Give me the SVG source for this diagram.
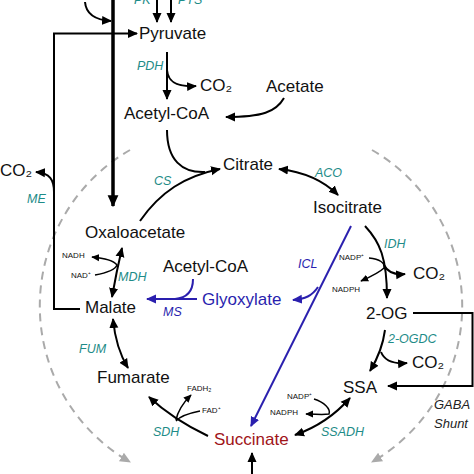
<svg xmlns="http://www.w3.org/2000/svg" width="474" height="474" viewBox="0 0 474 474">
<defs>
<style>
.m{font-family:"Liberation Sans",Arial,sans-serif;font-size:17px;fill:#111}
.e{font-family:"Liberation Sans",Arial,sans-serif;font-size:12.5px;font-style:italic;fill:#1e8c88}
.eb{font-family:"Liberation Sans",Arial,sans-serif;font-size:12.5px;font-style:italic;fill:#2a1fae}
.s{font-family:"Liberation Sans",Arial,sans-serif;font-size:8px;fill:#111}
.g{font-family:"Liberation Sans",Arial,sans-serif;font-size:13px;font-style:italic;fill:#222}
.l{fill:none;stroke:#000;stroke-width:2}
.lb{fill:none;stroke:#2a1fae;stroke-width:2}
.ls{fill:none;stroke:#000;stroke-width:1.5}
.d{fill:none;stroke:#aaa;stroke-width:2;stroke-dasharray:8 6}
</style>
<marker id="a" viewBox="0 0 10 10" refX="9" refY="5" markerWidth="10" markerHeight="10" markerUnits="userSpaceOnUse" orient="auto-start-reverse"><path d="M0,0.5 L10,5 L0,9.5 z" fill="#000"/></marker>
<marker id="ag" viewBox="0 0 10 10" refX="9" refY="5" markerWidth="12" markerHeight="12" markerUnits="userSpaceOnUse" orient="auto-start-reverse"><path d="M0,0.5 L10,5 L0,9.5 z" fill="#000"/></marker>
<marker id="as" viewBox="0 0 10 10" refX="9" refY="5" markerWidth="8" markerHeight="8" markerUnits="userSpaceOnUse" orient="auto-start-reverse"><path d="M0,0.5 L10,5 L0,9.5 z" fill="#000"/></marker>
<marker id="ab" viewBox="0 0 10 10" refX="9" refY="5" markerWidth="10" markerHeight="10" markerUnits="userSpaceOnUse" orient="auto-start-reverse"><path d="M0,0.5 L10,5 L0,9.5 z" fill="#2a1fae"/></marker>
<marker id="ad" viewBox="0 0 10 10" refX="9" refY="5" markerWidth="11" markerHeight="11" markerUnits="userSpaceOnUse" orient="auto-start-reverse"><path d="M0,0.5 L10,5 L0,9.5 z" fill="#aaa"/></marker>
</defs>
<rect width="474" height="474" fill="#fff"/>

<g id="connectors">
<path class="d" d="M130,150 A180,180 0 0 0 130,462" marker-end="url(#ad)"/>
<path class="d" d="M372,150 A180,180 0 0 1 372,462" marker-end="url(#ad)"/>
<path fill="none" stroke="#000" stroke-width="3.5" d="M113,0 L113,206" marker-end="url(#ag)"/>
<path class="l" d="M85,2 C86,14 95,20 111,21" marker-end="url(#a)"/>
<path class="l" d="M80,309 L54,309 L54,33.5 L137,33.5" marker-end="url(#a)"/>
<path class="l" d="M157,0 L157,22" marker-end="url(#a)"/>
<path class="l" d="M171,0 L171,22" marker-end="url(#a)"/>
<path class="l" d="M167,52 L167,99" marker-end="url(#a)"/>
<path class="l" d="M167,70 C168,84 180,87 196,86" marker-end="url(#a)"/>
<path class="l" d="M284,98 C276,112 262,117 226,117" marker-end="url(#a)"/>
<path class="l" d="M167,130 C167,160 182,173 205,172"/>
<path class="l" d="M140,221 C160,192 185,176 220,169" marker-end="url(#a)"/>
<path class="l" d="M54,192 C54,180 50,173 36,172" marker-end="url(#a)"/>
<path class="l" d="M279,169 C305,172 325,182 338,195" marker-start="url(#a)" marker-end="url(#a)"/>
<path class="l" d="M365,226 C380,242 387,258 387,298" marker-end="url(#a)"/>
<path class="ls" d="M369,258 C380,259 385,263 384,268 C379,273 370,277 361,281" marker-end="url(#as)"/>
<path class="l" d="M384,265 C388,273 395,275 405,274" marker-end="url(#a)"/>
<path class="lb" d="M351,226 L251,426" marker-end="url(#ab)"/>
<path class="lb" d="M318,287 C312,296 305,299 293,300" marker-end="url(#ab)"/>
<path class="l" d="M413,313 L472.5,313 L472.5,386 L388,386" marker-end="url(#a)"/>
<path class="l" d="M385,330 C383,345 378,358 370,371" marker-end="url(#a)"/>
<path class="l" d="M381,352 C385,362 395,364 407,363" marker-end="url(#a)"/>
<path class="l" d="M350,398 C335,415 315,428 295,435" marker-start="url(#a)" marker-end="url(#a)"/>
<path class="ls" d="M314,399 C324,402 331,409 329,414 C322,415 316,414 306,414" marker-end="url(#as)"/>
<path class="l" d="M252,474 L252,453" marker-end="url(#a)"/>
<path class="l" d="M208,436 C185,425 165,412 149,397" marker-end="url(#a)"/>
<path class="ls" d="M176,420 C178,410 184,402 191,395" marker-end="url(#as)"/>
<path class="ls" d="M200,411 C190,413 180,416 176,421"/>
<path class="l" d="M113,319 C115,340 120,355 128,368" marker-start="url(#a)" marker-end="url(#a)"/>
<path class="l" d="M112,297 C115,280 118,265 122,248" marker-start="url(#a)" marker-end="url(#a)"/>
<path class="ls" d="M95,275 C106,273 115,270 117,265 C113,260 103,258 92,257" marker-end="url(#as)"/>
<path class="lb" d="M197,299 L147,299" marker-end="url(#ab)"/>
<path class="lb" d="M193,279 C193,292 186,298 175,299"/>
</g>

<g id="pk"><text class="e" x="134" y="4">PK</text></g>
<g id="pts"><text class="e" x="178" y="4">PTS</text></g>
<g id="pyruvate"><text class="m" x="139" y="39">Pyruvate</text></g>
<g id="pdh"><text class="e" x="137" y="70">PDH</text></g>
<g id="co2-pdh"><text class="m" x="200" y="91">CO₂</text></g>
<g id="acetylcoa"><text class="m" x="124" y="119">Acetyl-CoA</text></g>
<g id="acetate"><text class="m" x="266" y="92">Acetate</text></g>
<g id="co2-me"><text class="m" x="0" y="176">CO₂</text></g>
<g id="me"><text class="e" x="27" y="203">ME</text></g>
<g id="citrate"><text class="m" x="223" y="170">Citrate</text></g>
<g id="cs"><text class="e" x="154" y="185">CS</text></g>
<g id="aco"><text class="e" x="315" y="177">ACO</text></g>
<g id="isocitrate"><text class="m" x="313" y="213">Isocitrate</text></g>
<g id="idh"><text class="e" x="384" y="248">IDH</text></g>
<g id="nadp1"><text class="s" x="339" y="260">NADP⁺</text></g>
<g id="nadph1"><text class="s" x="332" y="292">NADPH</text></g>
<g id="co2-idh"><text class="m" x="413" y="279">CO₂</text></g>
<g id="oxaloacetate"><text class="m" x="85" y="238">Oxaloacetate</text></g>
<g id="nadh"><text class="s" x="62" y="258">NADH</text></g>
<g id="nad"><text class="s" x="71" y="278">NAD⁺</text></g>
<g id="mdh"><text class="e" x="118" y="281">MDH</text></g>
<g id="acetylcoa2"><text class="m" x="163" y="272">Acetyl-CoA</text></g>
<g id="icl"><text class="eb" x="298" y="268">ICL</text></g>
<g id="glyoxylate"><text class="m" x="202" y="305" style="fill:#2a1fae">Glyoxylate</text></g>
<g id="malate"><text class="m" x="85" y="313">Malate</text></g>
<g id="ms"><text class="eb" x="163" y="316">MS</text></g>
<g id="og"><text class="m" x="366" y="319">2-OG</text></g>
<g id="ogdc"><text class="e" x="388" y="343">2-OGDC</text></g>
<g id="co2-ogdc"><text class="m" x="412" y="368">CO₂</text></g>
<g id="ssa"><text class="m" x="343" y="393">SSA</text></g>
<g id="gaba"><text class="g" x="434" y="409">GABA</text><text class="g" x="434" y="428">Shunt</text></g>
<g id="fum"><text class="e" x="79" y="353">FUM</text></g>
<g id="fumarate"><text class="m" x="97" y="383">Fumarate</text></g>
<g id="fadh2"><text class="s" x="187" y="391">FADH₂</text></g>
<g id="fad"><text class="s" x="202" y="413">FAD⁺</text></g>
<g id="sdh"><text class="e" x="153" y="436">SDH</text></g>
<g id="nadp2"><text class="s" x="287" y="399">NADP⁺</text></g>
<g id="nadph2"><text class="s" x="270" y="415">NADPH</text></g>
<g id="ssadh"><text class="e" x="321" y="436">SSADH</text></g>
<g id="succinate"><text class="m" x="214" y="445" style="fill:#a01418">Succinate</text></g>
</svg>
